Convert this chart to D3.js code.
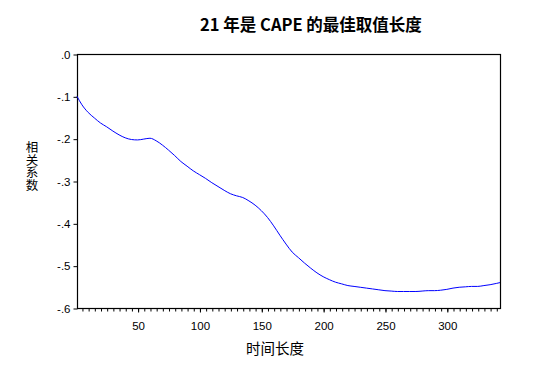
<!DOCTYPE html>
<html>
<head>
<meta charset="utf-8">
<script src="https://cdn.jsdelivr.net/npm/d3@7"></script>
<style>
  body { margin: 0; background: #fff; }
  text { font-family: "Liberation Sans", Arial, sans-serif; }
</style>
</head>
<body>
<div id="graf"></div>
<script>
// Datos
titulo = '21 年是 CAPE 的最佳取值长度'
etiquetaX = '时间长度'
etiquetaY = '相关系数'

longitudes = [1, 5, 10, 15, 20, 25, 30, 35, 40, 45, 50, 55, 60, 65, 70, 75, 80, 85, 90, 95,
  100, 105, 110, 115, 120, 125, 130, 135, 140, 145, 150, 155, 160, 165, 170, 175, 180, 185, 190, 195,
  200, 205, 210, 215, 220, 225, 230, 235, 240, 245, 250, 255, 260, 265, 270, 275, 280, 285, 290, 295,
  300, 305, 310, 315, 320, 325, 330, 335, 340, 343]
correlacion = [-0.100, -0.120, -0.138, -0.151, -0.163, -0.172, -0.182, -0.191, -0.198, -0.202,
  -0.203, -0.201, -0.199, -0.205, -0.215, -0.227, -0.240, -0.254, -0.265, -0.276,
  -0.285, -0.294, -0.304, -0.313, -0.322, -0.330, -0.335, -0.339, -0.347, -0.357,
  -0.370, -0.386, -0.406, -0.428, -0.449, -0.468, -0.481, -0.494, -0.506, -0.517,
  -0.526, -0.533, -0.539, -0.543, -0.547, -0.549, -0.551, -0.553, -0.555, -0.557,
  -0.559, -0.560, -0.561, -0.561, -0.561, -0.561, -0.560, -0.559, -0.559, -0.558,
  -0.556, -0.553, -0.551, -0.550, -0.549, -0.549, -0.547, -0.545, -0.542, -0.540]

ticksX = [50, 100, 150, 200, 250, 300]
ticksY = [0, -0.1, -0.2, -0.3, -0.4, -0.5, -0.6]

data = longitudes.map((l, i) => ({ L: l, C: correlacion[i] }))

ancho_total = 555
alto_total = 376
margins = { top: 54, left: 77, right: 55, bottom: 68 }
ancho = ancho_total - margins.left - margins.right
alto = alto_total - margins.top - margins.bottom

svg = d3.select('#graf').append('svg')
  .attr('width', ancho_total)
  .attr('height', alto_total)

g = svg.append('g')
  .attr('transform', `translate(${margins.left}, ${margins.top})`)

// Escaladores
x = d3.scaleLinear().domain([1, 343]).range([0, ancho])
y = d3.scaleLinear().domain([-0.6, 0]).range([alto, 0])

// Marco
g.append('rect')
  .attr('x', 0.5).attr('y', 0.5)
  .attr('width', ancho).attr('height', alto)
  .attr('fill', 'none')
  .attr('stroke', '#000')
  .attr('stroke-width', 1.2)

// Eje X: marcas menores cada 5
xMinor = g.append('g')
  .attr('transform', `translate(0.5, ${alto + 0.5})`)
  .call(d3.axisBottom(x).tickValues(d3.range(5, 343, 5)).tickSize(3).tickFormat(''))
xAxis = g.append('g')
  .attr('transform', `translate(0.5, ${alto + 0.5})`)
  .call(d3.axisBottom(x).tickValues(ticksX).tickSize(4).tickPadding(9))
;[xMinor, xAxis].forEach(a => a.select('.domain').remove())
xAxis.selectAll('text').attr('font-size', 11.5).attr('fill', '#000')
  .style('font-family', '"Liberation Sans", Arial, sans-serif')

// Eje Y
yAxis = g.append('g')
  .attr('transform', 'translate(0.5, 0.5)')
  .call(d3.axisLeft(y).tickValues(ticksY).tickSize(4).tickPadding(3)
    .tickFormat(d => d3.format('.1f')(d).replace('0.', '.').replace('−', '-')))
yAxis.select('.domain').remove()
yAxis.selectAll('text').attr('font-size', 11.5).attr('fill', '#000')
  .style('font-family', '"Liberation Sans", Arial, sans-serif')

// Línea
lineaGen = d3.line()
  .x(d => x(d.L))
  .y(d => y(d.C))
  .curve(d3.curveMonotoneX)
g.append('path')
  .datum(data)
  .attr('fill', 'none')
  .attr('stroke', '#0000ff')
  .attr('stroke-width', 1)
  .attr('d', lineaGen)

// Textos
svg.append('text')
  .attr('x', 311).attr('y', 31)
  .attr('text-anchor', 'middle')
  .attr('font-size', 16.5).attr('font-weight', 'bold')
  .style('font-family', '"Noto Sans CJK SC", sans-serif')
  .text(titulo)

svg.append('text')
  .attr('x', 275).attr('y', 354)
  .attr('text-anchor', 'middle')
  .attr('font-size', 14.5)
  .style('font-family', '"Noto Sans CJK SC", sans-serif')
  .text(etiquetaX)

// Etiqueta vertical, caracteres uno debajo de otro
svg.append('text')
  .attr('x', 32).attr('y', 141)
  .style('writing-mode', 'vertical-rl')
  .style('text-orientation', 'upright')
  .attr('font-size', 12.5)
  .style('font-family', '"Noto Sans CJK SC", sans-serif')
  .text(etiquetaY)
</script>
</body>
</html>
